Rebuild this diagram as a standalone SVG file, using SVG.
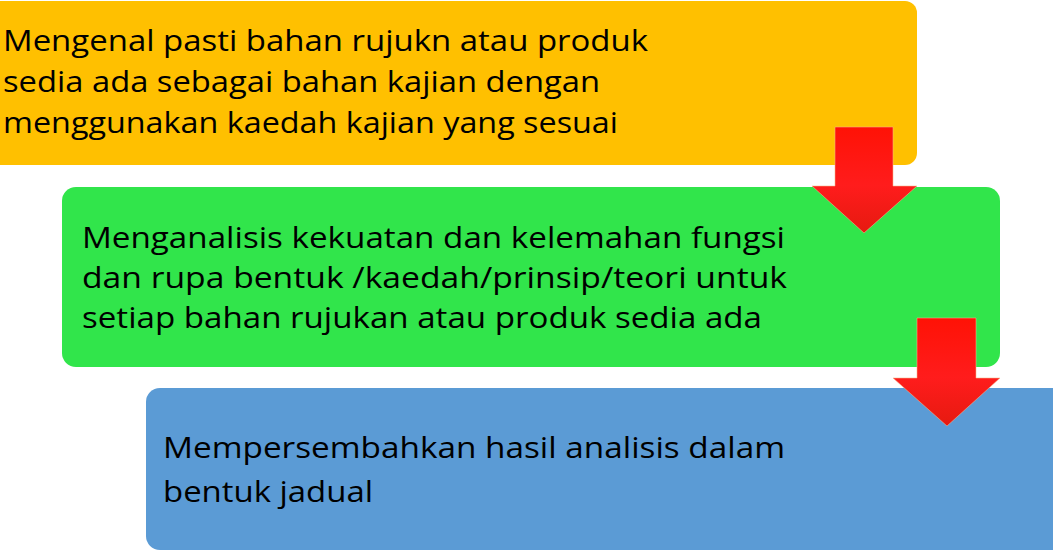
<svg xmlns="http://www.w3.org/2000/svg" width="1053" height="553" viewBox="0 0 1053 553">
<defs>
<linearGradient id="arrowGrad" x1="0" y1="0" x2="0" y2="1">
<stop offset="0" stop-color="#ff1206"/>
<stop offset="0.55" stop-color="#ff1c1c"/>
<stop offset="1" stop-color="#e61a10"/>
</linearGradient>
</defs>
<style>
.box-text{font-family:"Open Sans","Noto Sans","Liberation Sans",sans-serif;font-size:30px;fill:#000}
.arrow{fill:url(#arrowGrad);stroke:#f6b48a;stroke-width:0.8;stroke-opacity:0.7}
</style>
<rect x="0" y="0" width="1053" height="553" fill="#ffffff"/>
<g id="node-1">
<rect x="-20" y="1" width="937" height="164" rx="12" fill="#ffc000"/>
<text class="box-text">
<tspan x="3" y="51" textLength="645" lengthAdjust="spacingAndGlyphs">Mengenal pasti bahan rujukn atau produk</tspan>
<tspan x="3" y="92" textLength="597" lengthAdjust="spacingAndGlyphs">sedia ada sebagai bahan kajian dengan</tspan>
<tspan x="3" y="133" textLength="615" lengthAdjust="spacingAndGlyphs">menggunakan kaedah kajian yang sesuai</tspan>
</text>
</g>
<g id="node-2">
<rect x="62" y="187" width="938" height="180" rx="14" fill="#31e54b"/>
<text class="box-text">
<tspan x="82" y="248" textLength="703" lengthAdjust="spacingAndGlyphs">Menganalisis kekuatan dan kelemahan fungsi</tspan>
<tspan x="82" y="288" textLength="705" lengthAdjust="spacingAndGlyphs">dan rupa bentuk /kaedah/prinsip/teori untuk</tspan>
<tspan x="82" y="328" textLength="680" lengthAdjust="spacingAndGlyphs">setiap bahan rujukan atau produk sedia ada</tspan>
</text>
</g>
<g id="node-3">
<rect x="146" y="388" width="930" height="162" rx="14" fill="#5b9bd5"/>
<text class="box-text" fill="#050a18">
<tspan x="163" y="458" textLength="622" lengthAdjust="spacingAndGlyphs">Mempersembahkan hasil analisis dalam</tspan>
<tspan x="163" y="502" textLength="210" lengthAdjust="spacingAndGlyphs">bentuk jadual</tspan>
</text>
</g>
<g id="connectors">
<polygon class="arrow" points="835,127 893,127 893,186 917,186 864,233 812,186 835,186"/>
<polygon class="arrow" points="917,318 976,318 976,378 1000,378 947,426 893,378 917,378"/>
</g>
</svg>
